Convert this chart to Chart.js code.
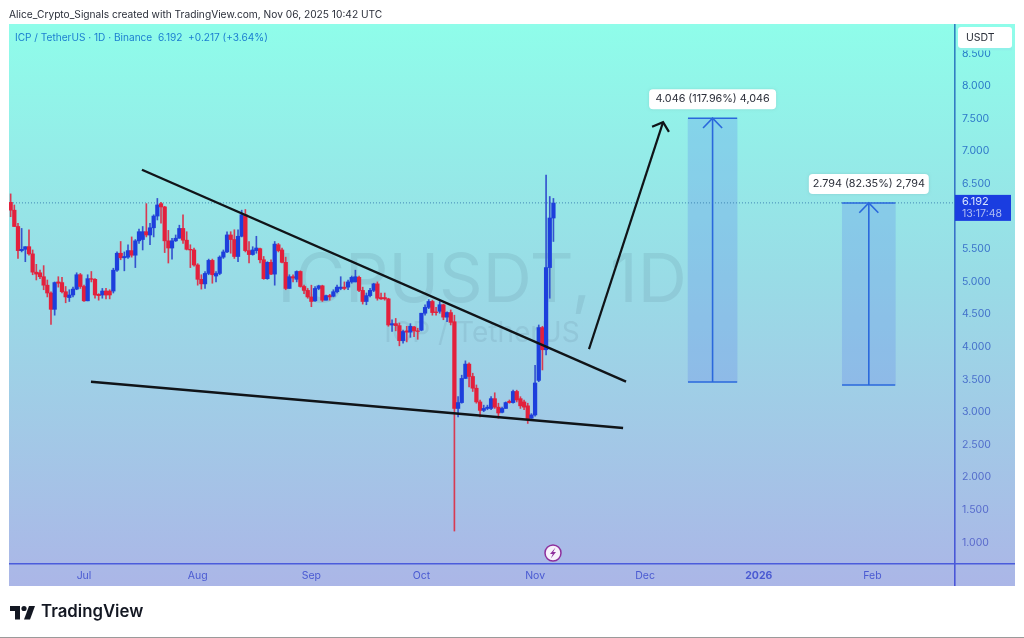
<!DOCTYPE html>
<html>
<head>
<meta charset="utf-8">
<title>ICP / TetherUS</title>
<script src="https://cdn.jsdelivr.net/npm/chart.js@4"></script>
<style>
html,body{margin:0;padding:0;background:#fff;overflow:hidden}
canvas{display:block}
</style>
</head>
<body>
<canvas id="c" width="1024" height="638"></canvas>
<script>
// Days are counted from 1 Jul 2025; first visible candle is 20 days earlier.
const firstDay = -20;
const highs = [6.33,6.16,5.88,5.80,5.52,5.78,5.47,5.25,5.16,5.23,5.01,4.83,4.98,5.06,5.05,4.91,4.86,4.90,5.12,5.11,4.93,5.09,5.14,5.03,4.80,4.88,4.88,4.86,5.19,5.44,5.60,5.44,5.55,5.67,5.63,5.79,5.83,6.18,5.88,6.01,6.26,6.20,6.14,5.77,5.65,5.70,5.85,6.01,5.75,5.55,5.50,5.26,5.09,5.14,5.33,5.33,5.14,5.38,5.47,5.75,5.75,5.78,5.78,6.08,6.09,5.60,5.52,5.68,5.50,5.37,5.29,5.32,5.60,5.57,5.50,5.36,5.09,5.09,5.15,5.15,4.93,4.88,4.93,4.91,4.93,4.93,4.78,4.79,4.86,4.93,5.06,4.98,5.01,5.07,5.16,5.07,4.90,4.81,4.88,4.96,4.98,4.81,4.81,4.73,4.40,4.42,4.35,4.24,4.30,4.34,4.30,4.27,4.50,4.63,4.71,4.70,4.59,4.68,4.64,4.52,4.55,4.47,3.22,3.55,3.77,3.74,3.58,3.40,3.17,3.09,3.09,3.22,3.28,3.12,3.06,3.14,3.17,3.32,3.32,3.22,3.17,3.12,2.96,3.70,4.32,4.30,6.62,6.29,6.26];
const lows = [5.98,5.83,5.34,5.44,5.29,5.39,5.09,5.01,5.03,4.86,4.75,4.33,4.47,4.90,4.81,4.66,4.68,4.75,4.86,4.88,4.68,4.69,4.98,4.73,4.70,4.73,4.72,4.72,4.81,5.14,5.32,5.15,5.34,5.36,5.20,5.57,5.47,5.67,5.55,5.67,5.93,5.88,5.43,5.27,5.33,5.60,5.65,5.57,5.47,5.20,5.22,4.93,4.87,4.88,5.09,4.96,4.98,5.09,5.34,5.43,5.42,5.34,5.29,5.67,5.44,5.27,5.39,5.42,5.27,5.02,5.02,5.09,4.93,5.44,5.27,4.86,4.88,4.98,4.98,4.90,4.80,4.73,4.60,4.68,4.86,4.68,4.70,4.70,4.75,4.81,4.86,4.86,4.86,4.96,4.98,4.83,4.64,4.63,4.75,4.83,4.70,4.71,4.70,4.30,4.22,4.23,4.00,4.04,4.06,4.13,4.14,4.10,4.23,4.47,4.57,4.47,4.47,4.50,4.40,4.37,4.32,1.16,2.91,3.12,3.50,3.37,3.30,3.12,2.91,2.99,3.02,3.02,3.04,2.89,2.97,3.04,3.12,3.12,3.14,3.04,3.02,2.81,2.89,2.92,3.45,3.63,3.86,4.73,5.60];
const opens = [6.20,6.08,5.83,5.46,5.48,5.52,5.41,5.13,5.12,5.06,4.93,4.81,4.56,4.98,4.97,4.83,4.74,4.78,4.87,5.09,4.91,4.69,5.03,5.02,4.79,4.78,4.84,4.84,4.84,5.16,5.42,5.35,5.36,5.46,5.39,5.61,5.63,5.75,5.70,5.81,5.99,6.18,6.13,5.61,5.50,5.61,5.65,5.80,5.62,5.48,5.47,5.24,5.02,4.95,5.11,5.31,5.07,5.11,5.36,5.44,5.70,5.63,5.37,5.68,6.01,5.46,5.40,5.46,5.49,5.32,5.03,5.28,5.10,5.55,5.47,5.28,4.88,5.06,5.02,5.14,4.91,4.85,4.75,4.69,4.88,4.92,4.70,4.77,4.76,4.83,4.88,4.90,4.90,4.98,4.98,5.05,4.85,4.68,4.77,4.85,4.95,4.74,4.74,4.72,4.32,4.34,4.31,4.08,4.23,4.21,4.29,4.23,4.24,4.50,4.59,4.68,4.52,4.53,4.63,4.44,4.51,4.37,3.04,3.13,3.50,3.72,3.53,3.35,3.14,3.01,3.04,3.04,3.19,3.06,2.98,3.04,3.15,3.13,3.30,3.19,3.14,3.08,2.89,2.94,3.47,4.28,3.94,5.20,5.96];
const closes = [6.08,5.83,5.46,5.48,5.52,5.41,5.13,5.10,5.06,4.93,4.81,4.56,4.97,4.96,4.83,4.75,4.78,4.87,5.09,4.91,4.69,5.03,5.02,4.78,4.77,4.84,4.78,4.78,5.16,5.42,5.35,5.37,5.46,5.39,5.61,5.75,5.75,5.70,5.81,5.99,6.16,6.13,5.61,5.50,5.61,5.65,5.80,5.62,5.48,5.47,5.24,5.02,4.95,5.11,5.31,5.09,5.11,5.36,5.44,5.70,5.63,5.37,5.68,6.01,5.46,5.40,5.47,5.50,5.32,5.03,5.28,5.10,5.56,5.46,5.28,4.88,5.06,5.04,5.14,4.91,4.85,4.75,4.68,4.88,4.92,4.70,4.77,4.75,4.83,4.90,4.90,4.88,4.98,5.05,5.06,4.85,4.68,4.77,4.85,4.95,4.73,4.72,4.72,4.32,4.34,4.31,4.08,4.22,4.21,4.30,4.23,4.22,4.50,4.59,4.68,4.51,4.51,4.63,4.44,4.51,4.36,3.04,3.13,3.50,3.72,3.53,3.35,3.14,3.01,3.04,3.06,3.19,3.06,2.97,3.04,3.13,3.13,3.30,3.17,3.08,3.06,2.87,2.94,3.43,4.28,3.94,5.20,5.96,6.19];

const lastPrice = 6.192;
const priceTicks = [1,1.5,2,2.5,3,3.5,4,4.5,5,5.5,6,6.5,7,7.5,8,8.5];
const monthDays = [0,31,62,92,123,153,184,215];
const monthLabels = ['Jul','Aug','Sep','Oct','Nov','Dec','2026','Feb'];

const upperTrendDays = [15.8,147.8];
const upperTrendPrices = [6.70,3.45];
const lowerTrendDays = [1.9,147.0];
const lowerTrendPrices = [3.45,2.74];
const moveDays = [137.7,157.9];
const movePrices = [3.95,7.43];
const moveHeadDays = [154.9,157.9,159.5];
const moveHeadPrices = [7.36,7.43,7.28];

const boxCenters = [171.4,214.0];
const boxLeft = [164.7,206.7];
const boxRight = [178.1,221.2];
const boxTops = [7.49,6.19];
const boxBottoms = [3.446,3.40];
const boxHeadHalfWidth = [2.6,2.6];
const boxHeadDrop = [0.15,0.15];
const boxLabels = ['4.046 (117.96%) 4,046','2.794 (82.35%) 2,794'];

const BLUE='#1d3fdc', RED='#e3203c', WICK_BLUE='#3454cf', WICK_RED='#d83a52', TOOL='#2a68dc', BLACK='#101418';

const pts = (xs,ys)=>xs.map((x,i)=>({x,y:ys[i]}));
const candleDays = closes.map((_,i)=>firstDay+i);
const isUp = closes.map((c,i)=>c>=opens[i]);
const lineDs = (data,color,width,order,extra)=>Object.assign({type:'line',data,borderColor:color,borderWidth:width,pointRadius:0,tension:0,fill:false,order,borderCapStyle:'butt'},extra||{});

const datasets = [
  {type:'bar',data:[{x:boxCenters[0],y:[boxBottoms[0],boxTops[0]]}],backgroundColor:'rgba(80,115,235,0.22)',barThickness:49,order:20},
  {type:'bar',data:[{x:boxCenters[1],y:[boxBottoms[1],boxTops[1]]}],backgroundColor:'rgba(80,115,235,0.22)',barThickness:53,order:20},
  lineDs(pts([-21,238],[lastPrice,lastPrice]),'#3f86b4',1,15,{borderDash:[1,2]}),
  {type:'bar',data:candleDays.map((x,i)=>({x,y:[lows[i],highs[i]]})),backgroundColor:isUp.map(u=>u?WICK_BLUE:WICK_RED),barThickness:1,order:12},
  {type:'bar',data:candleDays.map((x,i)=>({x,y:[Math.min(opens[i],closes[i]),Math.max(opens[i],closes[i])]})),backgroundColor:isUp.map(u=>u?BLUE:RED),barThickness:3.6,order:10},
  lineDs(pts(upperTrendDays,upperTrendPrices),BLACK,2.4,5),
  lineDs(pts(lowerTrendDays,lowerTrendPrices),BLACK,2.4,5),
  lineDs(pts(moveDays,movePrices),BLACK,2.2,5),
  lineDs(pts(moveHeadDays,moveHeadPrices),BLACK,2.2,5)
];
boxCenters.forEach((c,i)=>{
  datasets.push(lineDs(pts([boxLeft[i],boxRight[i]],[boxTops[i],boxTops[i]]),TOOL,1.6,4));
  datasets.push(lineDs(pts([boxLeft[i],boxRight[i]],[boxBottoms[i],boxBottoms[i]]),TOOL,1.6,4));
  datasets.push(lineDs(pts([c,c],[boxBottoms[i],boxTops[i]]),TOOL,1.6,4));
  datasets.push(lineDs(pts([c-boxHeadHalfWidth[i],c,c+boxHeadHalfWidth[i]],[boxTops[i]-boxHeadDrop[i],boxTops[i],boxTops[i]-boxHeadDrop[i]]),TOOL,1.6,4));
});

const FONT='Inter, "Liberation Sans", sans-serif';
function txt(ctx,s,x,y,font,color,align){ctx.font=font;ctx.fillStyle=color;ctx.textAlign=align||'left';ctx.textBaseline='middle';ctx.fillText(s,x,y);}
function rr(ctx,x,y,w,h,r,fill){ctx.beginPath();ctx.roundRect(x,y,w,h,r);ctx.fillStyle=fill;ctx.fill();}

const decor = {
  id:'decor',
  beforeDraw(chart){
    const c=chart.ctx;
    const g=c.createLinearGradient(0,24,0,586);
    g.addColorStop(0,'#8ffdea');g.addColorStop(0.45,'#99dce6');g.addColorStop(1,'#abb6e7');
    c.save();c.fillStyle=g;c.fillRect(9,24,1006,562);c.restore();
    c.save();
    txt(c,'Alice_Crypto_Signals created with TradingView.com, Nov 06, 2025 10:42 UTC',9,15,'400 10.2px '+FONT,'#2a2e39');
    c.restore();
  },
  beforeDatasetsDraw(chart){
    const c=chart.ctx;
    c.save();
    txt(c,'ICPUSDT, 1D',482,282,'400 68px '+FONT,'rgba(70,100,120,0.13)','center');
    txt(c,'ICP / TetherUS',482,334,'400 28px '+FONT,'rgba(70,100,120,0.12)','center');
    c.restore();
  },
  afterDraw(chart){
    const c=chart.ctx,xs=chart.scales.x,ys=chart.scales.y,ca=chart.chartArea;
    c.save();
    // axis rules, extended across the price and time bands
    const vg=c.createLinearGradient(0,24,0,586);
    vg.addColorStop(0,'#2f82bf');vg.addColorStop(1,'#4a55d8');
    c.fillStyle=vg;c.fillRect(ca.right-1,24,1.6,562);
    c.fillStyle='#4a5cdc';c.fillRect(9,ca.bottom,1006,1.5);
    // legend line
    txt(c,'ICP / TetherUS · 1D · Binance  6.192  +0.217 (+3.64%)',15,38,'400 10.1px '+FONT,'#1c7fd0');
    // measure labels
    [[127,20],[120,20]].forEach((sz,i)=>{
      const cx=xs.getPixelForValue(boxCenters[i]),ty=ys.getPixelForValue(boxTops[i]);
      c.shadowColor='rgba(0,0,0,0.10)';c.shadowBlur=3;
      rr(c,cx-sz[0]/2,ty-29,sz[0],sz[1],4,'#fff');
      c.shadowBlur=0;c.shadowColor='transparent';
      txt(c,boxLabels[i],cx,ty-19,'400 10.8px '+FONT,'#2a2e39','center');
    });
    // USDT button (its lower edge hides the top of the 8.500 tick)
    c.fillStyle='#8ff1e9';c.fillRect(958,47,54,3.5);
    rr(c,958,27,54,21,3,'#fff');
    txt(c,'USDT',966,38,'400 10.5px '+FONT,'#2a2e39');
    // last price label
    const py=ys.getPixelForValue(lastPrice);
    c.fillStyle='#1a3de0';c.fillRect(955,py-8,56,26);
    txt(c,'6.192',962,py-1,'400 11px '+FONT,'#d8e4ff');
    txt(c,'13:17:48',962,py+11,'400 10.5px '+FONT,'#aebcf2');
    // bolt marker
    const bx=553,by=553;
    c.beginPath();c.arc(bx,by,8,0,Math.PI*2);c.fillStyle='#f7f1fb';c.fill();c.lineWidth=1.5;c.strokeStyle='#8e2f9c';c.stroke();
    c.beginPath();c.moveTo(555.5,547.5);c.lineTo(550,554);c.lineTo(552.8,554);c.lineTo(550.8,558.5);c.lineTo(556,552);c.lineTo(553.2,552);c.closePath();c.fillStyle='#8e2f9c';c.fill();
    // TradingView mark
    c.fillStyle='#131722';
    c.fillRect(10,606,10,5);c.fillRect(15,606,5,13.5);
    c.beginPath();c.arc(24,608.5,2.6,0,Math.PI*2);c.fill();
    c.beginPath();c.moveTo(29,606);c.lineTo(35,606);c.lineTo(30,619.5);c.lineTo(24,619.5);c.closePath();c.fill();
    txt(c,'TradingView',41,612,'600 16.8px '+FONT,'#131722');
    c.fillStyle='#9a9a9a';c.fillRect(0,637,1024,1);
    c.restore();
  }
};

const tickColor = v => {
  const t=Math.min(1,Math.max(0,(v-1)/7.5));
  const r=Math.round(90-t*(90-38)),g=Math.round(106+t*(122-106)),b=Math.round(204-t*(204-200));
  return `rgb(${r},${g},${b})`;
};

new Chart(document.getElementById('c').getContext('2d'),{
  type:'bar',
  data:{datasets},
  plugins:[decor],
  options:{
    responsive:false,animation:false,events:[],
    layout:{padding:{left:9,top:24,right:9,bottom:52}},
    datasets:{bar:{grouped:false,borderWidth:0,borderSkipped:false}},
    plugins:{legend:{display:false},tooltip:{enabled:false},title:{display:false}},
    scales:{
      x:{type:'linear',offset:false,min:-20.45,max:237.5,
        grid:{display:false,drawTicks:false},
        border:{display:false},
        afterFit(s){s.height=23;},
        afterBuildTicks(s){s.ticks=monthDays.map(v=>({value:v}));},
        ticks:{autoSkip:false,maxRotation:0,padding:7,color:'#4a5ad2',
          font:ctx=>({family:FONT,size:10.5,weight:ctx.tick&&ctx.tick.value===184?'700':'400'}),
          callback:v=>monthLabels[monthDays.indexOf(v)]}
      },
      y:{type:'linear',position:'right',min:0.67,max:8.935,
        grid:{display:false,drawTicks:false},
        border:{display:false},
        afterFit(s){s.width=60;},
        afterBuildTicks(s){s.ticks=priceTicks.map(v=>({value:v}));},
        ticks:{autoSkip:false,padding:7,labelOffset:1,color:ctx=>tickColor(ctx.tick?ctx.tick.value:5),font:{family:FONT,size:10.5},callback:v=>v.toFixed(3)}
      }
    }
  }
});
</script>
</body>
</html>
